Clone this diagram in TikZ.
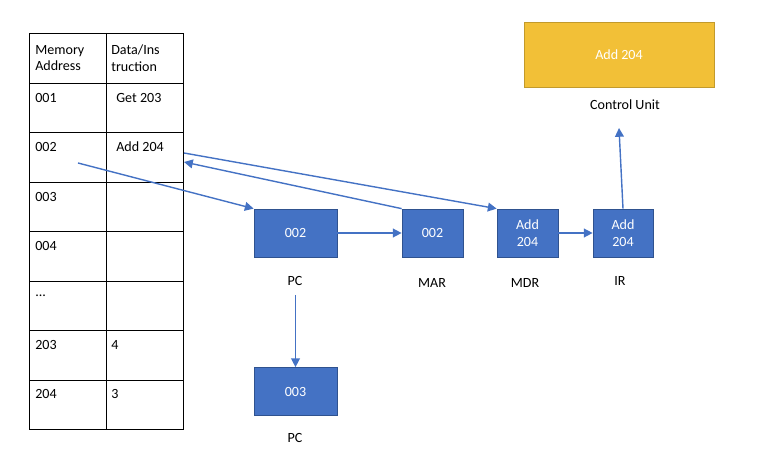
\documentclass[tikz,border=0pt]{standalone}
\usepackage{fontspec}
\setmainfont{Carlito}
\usetikzlibrary{arrows.meta}
\definecolor{boxblue}{HTML}{4472C4}
\definecolor{boxedge}{HTML}{2F528F}
\definecolor{cuyellow}{HTML}{F2C037}
\begin{document}
\begin{tikzpicture}[x=0.02cm,y=-0.02cm,font=\fontsize{8}{9.5}\selectfont]
        \tikzset{
          reg/.style={draw=boxedge, fill=boxblue, text=white, minimum height=48*0.02cm, inner sep=0pt, align=center},
          lbl/.style={inner sep=0pt, anchor=center},
          cell/.style={inner sep=0pt, anchor=west, align=left},
          arr/.style={draw=boxblue, thick, -{Triangle[length=5pt,width=5pt]}}
        }
        \useasboundingbox (0,0) rectangle (768,472);

        % — memory table —
        \draw (29,33) rectangle (183,429);
        \draw (106,33) -- (106,429);
        \foreach \y in {83,132,182,231,281,330,380} {
          \draw (29,\y) -- (183,\y);
        }
        \node[cell] (hA) at (35,58) {Memory\\Address};
        \node[cell] (hD) at (111,58) {Data/Ins\\truction};
        \node[cell] (a1) at (35,98) {001};
        \node[cell] (d1) at (116,98) {Get 203};
        \node[cell] (a2) at (35,147) {002};
        \node[cell] (d2) at (116,147) {Add 204};
        \node[cell] (a3) at (35,197) {003};
        \node[cell] (a4) at (35,246) {004};
        \node[cell] (a5) at (35,296) {...};
        \node[cell] (a6) at (35,345) {203};
        \node[cell] (d6) at (111,345) {4};
        \node[cell] (a7) at (35,394) {204};
        \node[cell] (d7) at (111,394) {3};
        \coordinate (src) at (78,163);
        \coordinate (addin) at (184,162);
        \coordinate (addout) at (184,153);

        % — registers —
        \node[reg, minimum width=83*0.02cm] (pc) at (295.5,233) {002};
        \node[reg, minimum width=61*0.02cm] (mar) at (432.5,233) {002};
        \node[reg, minimum width=61*0.02cm] (mdr) at (527.5,233) {Add\\204};
        \node[reg, minimum width=60*0.02cm] (ir) at (623,233) {Add\\204};
        \node[reg, minimum width=83*0.02cm] (pcb) at (295.5,391.5) {003};
        \node[reg, draw=cuyellow!80!black, fill=cuyellow, minimum width=190*0.02cm, minimum height=65*0.02cm] (cu) at (619,54.5) {Add 204};

        \node[lbl] (pcl) at (295,281) {PC};
        \node[lbl] (marl) at (432,283) {MAR};
        \node[lbl] (mdrl) at (525,283) {MDR};
        \node[lbl] (irl) at (620,281) {IR};
        \node[lbl] (pcbl) at (295,438) {PC};
        \node[lbl] (cul) at (625,105) {Control Unit};

        % — data flow —
        \draw[arr] (src) -- (pc.north west);
        \draw[arr] (mar.north west) -- (addin);
        \draw[arr] (addout) -- (mdr.north west);
        \draw[arr] (pc) -- (mar);
        \draw[arr] (mdr) -- (ir);
        \draw[arr] (ir.north) -- (cu.south |- 0,128);
        \draw[arr] (pc.south |- 0,295) -- (pcb.north);
\end{tikzpicture}
\end{document}
